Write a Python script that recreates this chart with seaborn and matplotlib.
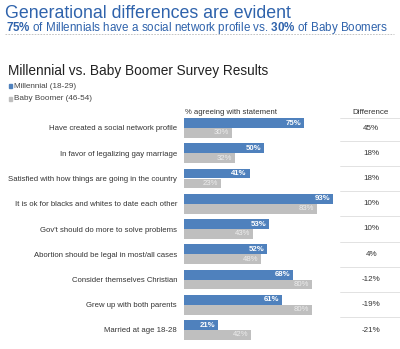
import matplotlib
matplotlib.use("Agg")
import matplotlib.pyplot as plt
import seaborn as sns
import pandas as pd
from matplotlib.patches import Rectangle
from matplotlib.lines import Line2D

statements = [
    "Have created a social network profile",
    "In favor of legalizing gay marriage",
    "Satisfied with how things are going in the country",
    "It is ok for blacks and whites to date each other",
    "Gov't should do more to solve problems",
    "Abortion should be legal in most/all cases",
    "Consider themselves Christian",
    "Grew up with both parents",
    "Married at age 18-28",
]
millennial = [75, 50, 41, 93, 53, 52, 68, 61, 21]
boomer = [30, 32, 23, 83, 43, 48, 80, 80, 42]
groups = ["Millennial (18-29)", "Baby Boomer (46-54)"]

BLUE = "#4F81BD"
GRAY = "#BFBFBF"
TITLE_BLUE = "#2F63AC"

sns.set_style("white")
plt.rcParams["font.family"] = ["Liberation Sans", "DejaVu Sans"]
plt.rcParams["mathtext.fontset"] = "custom"
plt.rcParams["mathtext.rm"] = "Liberation Sans"
plt.rcParams["mathtext.bf"] = "Liberation Sans:bold"

df = pd.DataFrame({
    "statement": statements * 2,
    "value": millennial + boomer,
    "group": [groups[0]] * len(statements) + [groups[1]] * len(statements),
})

W, H = 400, 349
fig = plt.figure(figsize=(4.0, 3.49), dpi=100)
fig.patch.set_facecolor("white")

def fx(px):
    return px / W

def fy(py):
    return 1 - py / H

row0, step = 128.0, 25.25
top_px = row0 - step / 2
bot_px = row0 + step * 8 + step / 2
ax = fig.add_axes([fx(184), fy(bot_px), fx(344) - fx(184), (bot_px - top_px) / H])
sns.barplot(data=df, y="statement", x="value", hue="group", orient="h",
            palette=[BLUE, GRAY], width=0.78, legend=False, ax=ax,
            saturation=1, edgecolor="none")
ax.set_xlim(0, 100)
ax.set_ylim(8.5, -0.5)
ax.set_xlabel("")
ax.set_ylabel("")
ax.set_xticks([])
for s in ax.spines.values():
    s.set_visible(False)
ax.tick_params(axis="y", length=0, pad=5, labelsize=5.6, labelcolor="#333333")

label_styles = [dict(color="white", fontweight="bold"), dict(color="#EDEDED", fontweight="normal")]
for cont, vals, st in zip(ax.containers, [millennial, boomer], label_styles):
    for p, v in zip(cont.patches, vals):
        ax.annotate(f"{v}%", xy=(p.get_x() + p.get_width(), p.get_y() + p.get_height() / 2),
                    xytext=(-2, 0), textcoords="offset points", ha="right", va="center",
                    fontsize=5.6, **st)

# Difference column
ax2 = fig.add_axes([fx(340), fy(bot_px), 1 - fx(340), (bot_px - top_px) / H], sharey=ax)
ax2.set_xlim(0, 1)
ax2.axis("off")
for i, (m, b) in enumerate(zip(millennial, boomer)):
    ax2.text(0.52, i, f"{m - b}%", ha="center", va="center", fontsize=5.8, color="#333333")
    if i < len(statements) - 1:
        ax2.plot([0, 1], [i + 0.5, i + 0.5], color="#DDDDDD", lw=0.6, clip_on=False)
ax2.plot([0, 1], [-0.4, -0.4], color="#DDDDDD", lw=0.6, clip_on=False)

# Headers
fig.text(fx(185), fy(112), "% agreeing with statement", fontsize=5.6, color="#333333",
         ha="left", va="center")
fig.text(fx(371), fy(112), "Difference", fontsize=5.8, color="#333333", ha="center", va="center")

# Titles
fig.text(fx(5), fy(17.5), "Generational differences are evident", fontsize=12.8,
         color=TITLE_BLUE, ha="left", va="baseline")
fig.text(fx(6), fy(31),
         r"$\mathbf{75\%}$ of Millennials have a social network profile vs. $\mathbf{30\%}$ of Baby Boomers",
         fontsize=8.4, color=TITLE_BLUE, ha="left", va="baseline")

fig.add_artist(Line2D([fx(5), fx(394)], [fy(34), fy(34)], color="#BBBBBB", lw=0.6,
                      linestyle=(0, (2, 1.5)), transform=fig.transFigure))

fig.text(fx(8), fy(71), "Millennial vs. Baby Boomer Survey Results", fontsize=9.8,
         color="#222222", ha="left", va="center")

for i, (g, c) in enumerate(zip(groups, [BLUE, GRAY])):
    yy = 86 + 13 * i
    fig.add_artist(Rectangle((fx(9), fy(yy + 1.6)), 3.2 / W, 3.2 / H, color=c,
                             transform=fig.transFigure))
    fig.text(fx(14), fy(yy), g, fontsize=5.9, color="#444444", ha="left", va="center")

fig.savefig("out.png", dpi=100, facecolor="white")
